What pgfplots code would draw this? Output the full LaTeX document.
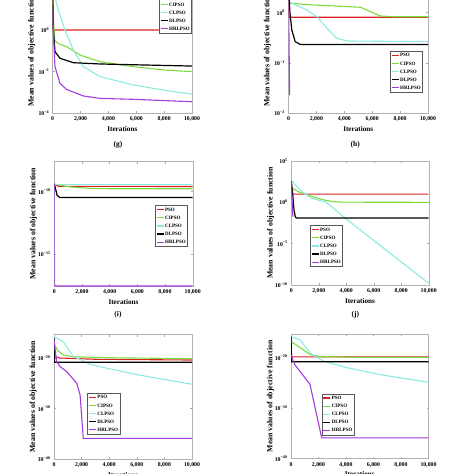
\documentclass[border=0pt]{standalone}
\usepackage{pgfplots}
\pgfplotsset{compat=1.18}
\usepackage{fontspec}
\setmainfont{Liberation Serif}
\definecolor{cRed}{RGB}{215,35,35}
\definecolor{cGreen}{RGB}{125,220,60}
\definecolor{cCyan}{RGB}{140,235,225}
\definecolor{cPurple}{RGB}{165,60,220}
\tikzset{
 pr/.style={cRed, line width=1.1pt},
 pg/.style={cGreen, line width=1.1pt},
 pc/.style={cCyan, line width=1.1pt},
 pk/.style={black, line width=1.2pt},
 pp/.style={cPurple, line width=1.1pt},
}
\newcommand{\e}[1]{10\textsuperscript{#1}}
\pgfplotsset{
  scale only axis, xmin=0, xmax=10000, scaled x ticks=false,
  xtick={0,2000,4000,6000,8000,10000},
  xticklabels={0,{2,000},{4,000},{6,000},{8,000},{10,000}},
  every tick label/.append style={font=\fontsize{5.8}{6}\selectfont\bfseries},
  xticklabel style={yshift=-0.3pt},
  every axis y label/.style={at={(axis description cs:-0.15,0.5)},rotate=90,anchor=center,font=\fontsize{7.8}{8}\selectfont\bfseries},
  every axis x label/.style={at={(axis description cs:0.5,-0.128)},anchor=center,font=\fontsize{7.2}{8}\selectfont\bfseries},
  tick align=inside, major tick length=2pt, yminorticks=false, xminorticks=false,
  axis line style={gray!60}, every tick/.style={gray!70},
  legend cell align=left,
  legend style={font=\fontsize{5}{5}\selectfont\bfseries, draw=gray!70!black, line width=0.4pt, fill=white,
    inner xsep=1pt, inner ysep=1pt, row sep=1.5pt,
    nodes={inner sep=0.8pt, text height=4pt, text depth=1pt}},
  legend image code/.code={\draw[#1,line width=1.2pt] (0pt,0pt) -- (7pt,0pt);},
}
\begin{document}
\begin{tikzpicture}
% (g)
\begin{axis}[ymode=log, xlabel={Iterations}, ylabel={Mean values of objective function},
  at={(52.7pt,-113.3pt)}, anchor=south west, width=139.3pt, height=124.9pt,
  ymin=1e-4, ymax=1e2, ytick={1e-4,1e-2,1,1e2}, yticklabels={\e{−4},\e{−2},\e{0},\e{2}},
  legend style={at={(0.998,0.64)}, anchor=south east}]
\addplot[pr] coordinates {(0,50) (40,1) (10000,1)};
\addplot[pg] coordinates {(0,100) (60,3) (150,0.32) (400,0.22) (1000,0.16) (1960,0.063) (3400,0.030) (5770,0.0174) (8000,0.012) (10000,0.010)};
\addplot[pc] coordinates {(0,100) (400,9.1) (880,1) (1480,0.11) (2200,0.0174) (3400,0.0058) (5790,0.0023) (8180,0.00123) (10000,0.00083)};
\addplot[pk] coordinates {(0,50) (50,1) (165,0.091) (525,0.044) (1480,0.027) (3400,0.0234) (10000,0.0186)};
\addplot[pp] coordinates {(0,9) (60,0.5) (165,0.0174) (520,0.00275) (1000,0.0014) (2200,0.00068) (3400,0.00052) (5790,0.00047) (10000,0.00036)};
\legend{PSO,CIPSO,CLPSO,DLPSO,HRLPSO}
\end{axis}
% (h)
\begin{axis}[ymode=log, xlabel={Iterations}, ylabel={Mean values of objective function},
  at={(288.5pt,-113.3pt)}, anchor=south west, width=139.5pt, height=125pt,
  ymin=1e-2, ymax=3.05, ytick={1e-2,1e-1,1}, yticklabels={\e{−2},\e{−1},\e{0}},
  legend style={at={(0.962,0.168)}, anchor=south east}]
\addplot[pr] coordinates {(0,3.5) (30,0.81) (10000,0.81)};
\addplot[pg] coordinates {(0,1.55) (1790,1.42) (4190,1.32) (5150,1.28) (5870,1.05) (6580,0.86) (7500,0.83) (10000,0.83)};
\addplot[pc] coordinates {(0,1.66) (1320,1.13) (2040,0.83) (2760,0.49) (3470,0.31) (4190,0.274) (10000,0.265)};
\addplot[pk] coordinates {(0,4) (100,1.0) (240,0.45) (480,0.265) (840,0.234) (10000,0.234)};
\addplot[pp] coordinates {(0,2.8) (40,0.25) (80,0.023)};
\legend{PSO,CIPSO,CLPSO,DLPSO,HRLPSO}
\end{axis}
% (i)
\begin{axis}[ymode=log, xlabel={Iterations}, ylabel={Mean values of objective function},
  at={(54.3pt,-286pt)}, anchor=south west, width=138.4pt, height=124.5pt,
  ymin=2.75e-18, ymax=2.5e-8, ytick={1e-15,1e-10}, yticklabels={\e{−15},\e{−10}},
  legend style={at={(0.964,0.316)}, anchor=south east}]
\addplot[pr] coordinates {(0,3.9e-10) (300,2.6e-10) (10000,2.5e-10)};
\addplot[pg] coordinates {(0,3.9e-10) (1000,2.4e-10) (2500,1.8e-10) (4000,1.66e-10) (10000,1.66e-10)};
\addplot[pc] coordinates {(0,3.9e-10) (10000,3.9e-10)};
\addplot[pk] coordinates {(0,3.9e-10) (100,1.5e-10) (200,5e-11) (400,3.3e-11) (10000,3.3e-11)};
\addplot[pp] coordinates {(0,3.9e-10) (15,2.75e-18) (10000,2.75e-18)};
\legend{PSO,CIPSO,CLPSO,DLPSO,HRLPSO}
\end{axis}
% (j)
\begin{axis}[ymode=log, xlabel={Iterations}, ylabel={Mean values of objective function},
  at={(291.3pt,-285pt)}, anchor=south west, width=137.4pt, height=124pt,
  ymin=1e-10, ymax=1e5, ytick={1e-10,1e-5,1,1e5}, yticklabels={\e{−10},\e{−5},\e{0},\e{5}},
  legend style={at={(0.136,0.148)}, anchor=south west}]
\addplot[pr] coordinates {(0,50) (60,12.6) (150,10) (10000,10)};
\addplot[pg] coordinates {(0,63) (500,20) (1000,10) (1500,5) (2000,2.8) (2500,1.78) (3000,1.26) (3500,1.1) (4000,1.05) (10000,1.0)};
\addplot[pc] coordinates {(0,500) (300,126) (600,40) (960,12) (1450,3.2) (2000,1.78) (2500,1.12) (3000,0.25) (3910,0.0126) (10000,1.6e-10)};
\addplot[pk] coordinates {(0,400) (100,10) (200,0.1) (300,0.016) (400,0.0126) (10000,0.0126)};
\addplot[pp] coordinates {(0,400) (50,3.2) (100,0.04) (120,0.018)};
\legend{PSO,CIPSO,CLPSO,DLPSO,HRLPSO}
\end{axis}
% (k)
\begin{axis}[ymode=log, xlabel={Iterations}, ylabel={Mean values of objective function},
  at={(54pt,-459pt)}, anchor=south west, width=138pt, height=124.5pt,
  ymin=1e-40, ymax=4.5e-16, ytick={1e-40,1e-30,1e-20}, yticklabels={\e{−40},\e{−30},\e{−20}},
  legend style={at={(0.241,0.198)}, anchor=south west}]
\addplot[pr] coordinates {(0,3.2e-18) (60,2.0e-20) (400,1e-20) (3000,5.6e-21) (10000,4.0e-21)};
\addplot[pg] coordinates {(0,6.3e-18) (300,2.5e-19) (680,4.0e-20) (1400,1.8e-20) (3800,1.15e-20) (10000,7.4e-21)};
\addplot[pc] coordinates {(0,1.6e-16) (680,1.6e-17) (1160,1.8e-19) (1400,2e-20) (2000,4.0e-21) (2610,5.6e-22) (3800,1e-22) (6210,4.0e-24) (10000,6.3e-26)};
\addplot[pk] coordinates {(0,1e-16) (40,1.41e-21) (10000,1.41e-21)};
\addplot[pp] coordinates {(0,4e-17) (190,2e-21) (440,2e-22) (920,2e-23) (1650,1e-25) (1890,5e-28) (2120,1.26e-36) (10000,1.26e-36)};
\legend{PSO,CIPSO,CLPSO,DLPSO,HRLPSO}
\end{axis}
% (l)
\begin{axis}[ymode=log, xlabel={Iterations}, ylabel={Mean values of objective function},
  at={(291pt,-458.5pt)}, anchor=south west, width=137.5pt, height=124.5pt,
  ymin=1e-40, ymax=4.5e-16, ytick={1e-40,1e-30,1e-20}, yticklabels={\e{−40},\e{−30},\e{−20}},
  legend style={at={(0.223,0.189)}, anchor=south west}]
\addplot[pr] coordinates {(0,1e-16) (40,1.38e-20) (10000,1.26e-20)};
\addplot[pg] coordinates {(0,1.6e-17) (1380,4e-20) (2110,1.6e-20) (4300,1.1e-20) (10000,1.1e-20)};
\addplot[pc] coordinates {(0,1.26e-16) (660,3.2e-17) (1380,7.9e-20) (2350,2e-21) (4050,1e-22) (6480,4e-24) (10000,1.26e-25)};
\addplot[pk] coordinates {(0,1.6e-16) (40,1.41e-21) (10000,1.41e-21)};
\addplot[pp] coordinates {(0,3.2e-20) (270,4e-22) (1380,5e-26) (1750,1.26e-30) (2230,1.26e-36) (10000,1.26e-36)};
\legend{PSO,CIPSO,CLPSO,DLPSO,HRLPSO}
\end{axis}
\begin{scope}[font=\fontsize{7.5}{8}\selectfont\bfseries]
\node at (118pt,-144.5pt) {(g)};
\node at (355.3pt,-145pt) {(h)};
\node at (118pt,-315pt) {(i)};
\node at (355.3pt,-315pt) {(j)};
\end{scope}
\pgfresetboundingbox
\path[use as bounding box] (0pt,0pt) rectangle (474pt,-474pt);
\end{tikzpicture}
\end{document}
